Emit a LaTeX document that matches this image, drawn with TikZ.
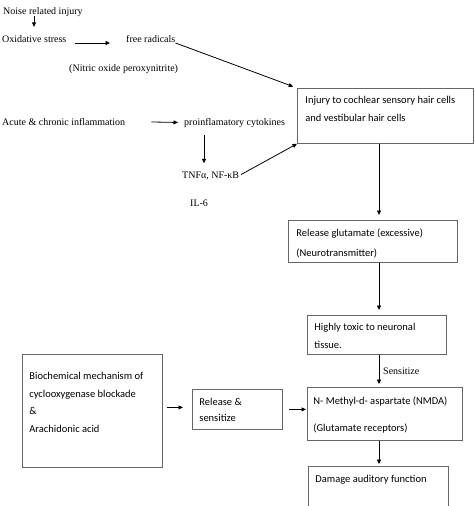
\documentclass[tikz,border=0pt]{standalone}
\usepackage{fontspec}
\setmainfont{Liberation Serif}
\newfontfamily\boxfont{Carlito}
\usetikzlibrary{arrows.meta}
% #1 width, #2 height, #3 first baseline offset, #4 baselineskip, #5 left pad, #6 text
\newcommand{\bxt}[6]{\parbox[t][#2][t]{#1}{\boxfont\fontsize{10.5}{#4}\selectfont\raggedright\leftskip=#5\relax\vspace*{\dimexpr#3-7.5pt\relax}\noindent\rule{0pt}{7.5pt}#6\par}}
\begin{document}
\begin{tikzpicture}[x=1pt,y=-1pt,
  arr/.style={-{Triangle[length=4.5pt,width=4pt]}, line width=0.8pt},
  txt/.style={inner sep=0pt, anchor=base west, font=\fontsize{10}{12}\selectfont},
  bx/.style={draw=black!60, line width=0.8pt, inner sep=0pt, anchor=north west}]
\useasboundingbox (0,0) rectangle (474,506);
\fill[white] (0,0) rectangle (474,506);
\clip (0,0) rectangle (474,506);

% free texts
\node[txt] (noise) at (3,14) {Noise related injury};
\node[txt] (ox) at (2,42) {Oxidative stress};
\node[txt] (free) at (126,42) {free radicals};
\node[txt] (nitric) at (69,71) {(Nitric oxide peroxynitrite)};
\node[txt] (acute) at (2,125) {Acute \& chronic inflammation};
\node[txt] (pro) at (184,125) {proinflamatory cytokines};
\node[txt] (tnf) at (182,178) {TNFα, NF-κB};
\node[txt] (il) at (190,206) {IL-6};
\node[txt] (sens) at (383,374) {Sensitize};

% boxes
\node[bx] (b1) at (297,88) {\bxt{176pt}{55pt}{15.5pt}{18pt}{8pt}{Injury to cochlear sensory hair cells\\and vestibular hair cells}};
\node[bx] (b2) at (288,220) {\bxt{169pt}{42pt}{16pt}{20pt}{8pt}{Release glutamate (excessive)\\(Neurotransmitter)}};
\node[bx] (b3) at (307,315) {\bxt{139pt}{39pt}{15pt}{18pt}{7pt}{Highly toxic to neuronal\\tissue.}};
\node[bx] (nmda) at (307,387) {\bxt{155pt}{53pt}{17pt}{27pt}{6pt}{N- Methyl-d- aspartate (NMDA)\\(Glutamate receptors)}};
\node[bx] (dmg) at (308,466) {\bxt{140pt}{64pt}{16pt}{18pt}{7pt}{Damage auditory function}};
\node[bx] (bio) at (22,354) {\bxt{140pt}{113pt}{25pt}{17.7pt}{7pt}{Biochemical mechanism of\\cyclooxygenase blockade\\\&\\Arachidonic acid}};
\node[bx] (rel) at (192,389) {\bxt{90pt}{40pt}{16pt}{16pt}{7pt}{Release \&\\sensitize}};

\coordinate (c1) at (34,0);
\coordinate (c2) at (204,0);
\coordinate (spine) at (379,0);

% connectors
\draw[arr, shorten >=8pt] (noise.south -| c1) -- (ox.north -| c1);
\draw[arr, shorten <=8pt, shorten >=16pt] ([yshift=-1pt]ox.base east) -- ([yshift=-1pt]free.base west);
\draw[arr, shorten >=4pt] ([yshift=-1pt]free.base east) -- (b1.north west);
\draw[arr, shorten <=26pt, shorten >=6pt] (acute.east) -- (pro.west);
\draw[arr, shorten <=8pt, shorten >=8pt] (pro.south -| c2) -- (tnf.north -| c2);
\draw[arr, shorten <=2pt] (tnf.east) -- (b1.south west);
\draw[arr, shorten >=5pt] (b1.south -| spine) -- (b2.north -| spine);
\draw[arr, shorten >=5pt] (b2.south -| spine) -- (b3.north -| spine);
\draw[arr, shorten >=3pt] (b3.south -| spine) -- (nmda.north -| spine);
\draw[arr, shorten >=2pt] (nmda.south -| spine) -- (dmg.north -| spine);
\draw[arr, shorten <=4pt, shorten >=9pt] ([yshift=3.5pt]bio.east) -- ([yshift=3.5pt]bio.east -| rel.west);
\draw[arr, shorten <=6pt, shorten >=1pt] (rel.east) -- (rel.east -| nmda.west);
\end{tikzpicture}
\end{document}
